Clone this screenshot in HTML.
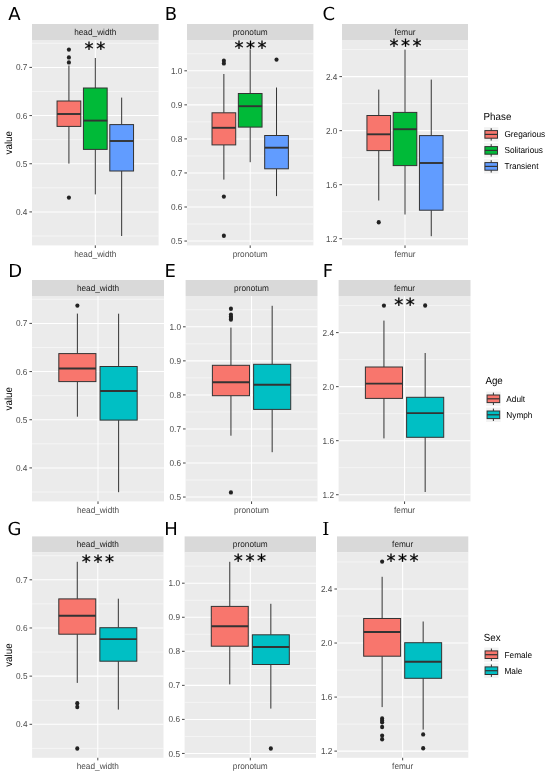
<!DOCTYPE html>
<html lang="en"><head><meta charset="utf-8"><title>Boxplots</title>
<style>html,body{margin:0;padding:0;background:#fff}svg{display:block}text{font-family:"Liberation Sans",Arial,Helvetica,sans-serif;text-rendering:geometricPrecision}.ax{font-size:8.7px;fill:#4D4D4D}.st{font-size:8.7px;fill:#1A1A1A;text-anchor:middle}.at{font-size:10.3px;fill:#000;text-anchor:middle}.lt{font-size:10.3px;fill:#000}.ll{font-size:8.7px;fill:#000}.let{font-family:"DejaVu Sans",Verdana,sans-serif;font-size:18px;fill:#000}.star{font-family:"DejaVu Sans",Verdana,sans-serif;font-size:18px;letter-spacing:2.6px;fill:#000;stroke:#000;stroke-width:.3}.gM{stroke:#fff;stroke-width:1.05}.gm{stroke:#fff;stroke-width:.5}.tk{stroke:#333;stroke-width:.9}.wh{stroke:#333;stroke-width:1.0}.bx{stroke:#333;stroke-width:1.0}.md{stroke:#333;stroke-width:1.9}.pt{fill:#222}</style></head><body>
<svg width="550" height="776" viewBox="0 0 550 776">
<rect width="550" height="776" fill="#fff"/>
<g transform="translate(0,0)">
<rect x="32" y="24" width="126.6" height="16" fill="#D9D9D9"/>
<rect x="32" y="40" width="126.6" height="205.4" fill="#EBEBEB"/>
<line class="gm" x1="32" x2="158.6" y1="236.00" y2="236.00"/>
<line class="gm" x1="32" x2="158.6" y1="187.82" y2="187.82"/>
<line class="gm" x1="32" x2="158.6" y1="139.65" y2="139.65"/>
<line class="gm" x1="32" x2="158.6" y1="91.48" y2="91.48"/>
<line class="gm" x1="32" x2="158.6" y1="43.31" y2="43.31"/>
<line class="gM" x1="32" x2="158.6" y1="211.91" y2="211.91"/>
<line class="gM" x1="32" x2="158.6" y1="163.74" y2="163.74"/>
<line class="gM" x1="32" x2="158.6" y1="115.57" y2="115.57"/>
<line class="gM" x1="32" x2="158.6" y1="67.40" y2="67.40"/>
<line class="gM" x1="95.30" x2="95.30" y1="40" y2="245.4"/>
<line class="tk" x1="29.4" x2="32" y1="211.91" y2="211.91"/>
<text class="ax" text-anchor="end" transform="translate(27.4 214.96) scale(0.95 1)">0.4</text>
<line class="tk" x1="29.4" x2="32" y1="163.74" y2="163.74"/>
<text class="ax" text-anchor="end" transform="translate(27.4 166.79) scale(0.95 1)">0.5</text>
<line class="tk" x1="29.4" x2="32" y1="115.57" y2="115.57"/>
<text class="ax" text-anchor="end" transform="translate(27.4 118.62) scale(0.95 1)">0.6</text>
<line class="tk" x1="29.4" x2="32" y1="67.40" y2="67.40"/>
<text class="ax" text-anchor="end" transform="translate(27.4 70.45) scale(0.95 1)">0.7</text>
<line class="tk" x1="95.30" x2="95.30" y1="245.4" y2="248"/>
<text class="ax" text-anchor="middle" transform="translate(95.30 256.6) scale(0.95 1)">head_width</text>
<text class="st" transform="translate(95.30 34.7) scale(0.95 1)">head_width</text>
<line class="wh" x1="68.92" x2="68.92" y1="65.5" y2="101"/>
<line class="wh" x1="68.92" x2="68.92" y1="126.4" y2="163.6"/>
<rect class="bx" x="57.0562" y="101" width="23.74" height="25.40" fill="#F8766D"/>
<line class="md" x1="57.0562" x2="80.7938" y1="114" y2="114"/>
<ellipse class="pt" cx="68.92" cy="49.6" rx="2.05" ry="2.2"/>
<ellipse class="pt" cx="68.92" cy="57.4" rx="2.05" ry="2.2"/>
<ellipse class="pt" cx="68.92" cy="62.4" rx="2.05" ry="2.2"/>
<ellipse class="pt" cx="68.92" cy="197.6" rx="2.05" ry="2.2"/>
<line class="wh" x1="95.30" x2="95.30" y1="58" y2="88"/>
<line class="wh" x1="95.30" x2="95.30" y1="149.4" y2="194.4"/>
<rect class="bx" x="83.4312" y="88" width="23.74" height="61.40" fill="#00BA38"/>
<line class="md" x1="83.4312" x2="107.169" y1="120.6" y2="120.6"/>
<line class="wh" x1="121.67" x2="121.67" y1="97.6" y2="124.6"/>
<line class="wh" x1="121.67" x2="121.67" y1="171" y2="236"/>
<rect class="bx" x="109.806" y="124.6" width="23.74" height="46.40" fill="#619CFF"/>
<line class="md" x1="109.806" x2="133.544" y1="141" y2="141"/>
<text class="star" text-anchor="middle" x="96.2" y="54.9">**</text>
<text class="let" x="8.2" y="19.5">A</text>
<rect x="187" y="24" width="126.4" height="16" fill="#D9D9D9"/>
<rect x="187" y="40" width="126.4" height="205.4" fill="#EBEBEB"/>
<line class="gm" x1="187" x2="313.4" y1="224.02" y2="224.02"/>
<line class="gm" x1="187" x2="313.4" y1="189.97" y2="189.97"/>
<line class="gm" x1="187" x2="313.4" y1="155.93" y2="155.93"/>
<line class="gm" x1="187" x2="313.4" y1="121.88" y2="121.88"/>
<line class="gm" x1="187" x2="313.4" y1="87.83" y2="87.83"/>
<line class="gm" x1="187" x2="313.4" y1="53.77" y2="53.77"/>
<line class="gM" x1="187" x2="313.4" y1="241.05" y2="241.05"/>
<line class="gM" x1="187" x2="313.4" y1="207.00" y2="207.00"/>
<line class="gM" x1="187" x2="313.4" y1="172.95" y2="172.95"/>
<line class="gM" x1="187" x2="313.4" y1="138.90" y2="138.90"/>
<line class="gM" x1="187" x2="313.4" y1="104.85" y2="104.85"/>
<line class="gM" x1="187" x2="313.4" y1="70.80" y2="70.80"/>
<line class="gM" x1="250.20" x2="250.20" y1="40" y2="245.4"/>
<line class="tk" x1="184.4" x2="187" y1="241.05" y2="241.05"/>
<text class="ax" text-anchor="end" transform="translate(182.4 244.10) scale(0.95 1)">0.5</text>
<line class="tk" x1="184.4" x2="187" y1="207.00" y2="207.00"/>
<text class="ax" text-anchor="end" transform="translate(182.4 210.05) scale(0.95 1)">0.6</text>
<line class="tk" x1="184.4" x2="187" y1="172.95" y2="172.95"/>
<text class="ax" text-anchor="end" transform="translate(182.4 176.00) scale(0.95 1)">0.7</text>
<line class="tk" x1="184.4" x2="187" y1="138.90" y2="138.90"/>
<text class="ax" text-anchor="end" transform="translate(182.4 141.95) scale(0.95 1)">0.8</text>
<line class="tk" x1="184.4" x2="187" y1="104.85" y2="104.85"/>
<text class="ax" text-anchor="end" transform="translate(182.4 107.90) scale(0.95 1)">0.9</text>
<line class="tk" x1="184.4" x2="187" y1="70.80" y2="70.80"/>
<text class="ax" text-anchor="end" transform="translate(182.4 73.85) scale(0.95 1)">1.0</text>
<line class="tk" x1="250.20" x2="250.20" y1="245.4" y2="248"/>
<text class="ax" text-anchor="middle" transform="translate(250.20 256.6) scale(0.95 1)">pronotum</text>
<text class="st" transform="translate(250.20 34.7) scale(0.95 1)">pronotum</text>
<line class="wh" x1="223.87" x2="223.87" y1="74" y2="112.8"/>
<line class="wh" x1="223.87" x2="223.87" y1="144.9" y2="179.6"/>
<rect class="bx" x="212.017" y="112.8" width="23.70" height="32.10" fill="#F8766D"/>
<line class="md" x1="212.017" x2="235.717" y1="127.8" y2="127.8"/>
<ellipse class="pt" cx="223.87" cy="60.8" rx="2.05" ry="2.2"/>
<ellipse class="pt" cx="223.87" cy="63.4" rx="2.05" ry="2.2"/>
<ellipse class="pt" cx="223.87" cy="196.6" rx="2.05" ry="2.2"/>
<ellipse class="pt" cx="223.87" cy="235.8" rx="2.05" ry="2.2"/>
<line class="wh" x1="250.20" x2="250.20" y1="49.3" y2="93.5"/>
<line class="wh" x1="250.20" x2="250.20" y1="127.1" y2="162.2"/>
<rect class="bx" x="238.35" y="93.5" width="23.70" height="33.60" fill="#00BA38"/>
<line class="md" x1="238.35" x2="262.05" y1="106.2" y2="106.2"/>
<line class="wh" x1="276.53" x2="276.53" y1="87.5" y2="135.5"/>
<line class="wh" x1="276.53" x2="276.53" y1="168.8" y2="196.1"/>
<rect class="bx" x="264.683" y="135.5" width="23.70" height="33.30" fill="#619CFF"/>
<line class="md" x1="264.683" x2="288.383" y1="147.7" y2="147.7"/>
<ellipse class="pt" cx="276.53" cy="59.6" rx="2.05" ry="2.2"/>
<text class="star" text-anchor="middle" x="251.8" y="53.9">***</text>
<text class="let" x="164.7" y="19.5">B</text>
<rect x="342" y="24" width="126" height="16" fill="#D9D9D9"/>
<rect x="342" y="40" width="126" height="205.4" fill="#EBEBEB"/>
<line class="gm" x1="342" x2="468" y1="211.70" y2="211.70"/>
<line class="gm" x1="342" x2="468" y1="157.66" y2="157.66"/>
<line class="gm" x1="342" x2="468" y1="103.62" y2="103.62"/>
<line class="gm" x1="342" x2="468" y1="49.58" y2="49.58"/>
<line class="gM" x1="342" x2="468" y1="238.72" y2="238.72"/>
<line class="gM" x1="342" x2="468" y1="184.68" y2="184.68"/>
<line class="gM" x1="342" x2="468" y1="130.64" y2="130.64"/>
<line class="gM" x1="342" x2="468" y1="76.60" y2="76.60"/>
<line class="gM" x1="405.00" x2="405.00" y1="40" y2="245.4"/>
<line class="tk" x1="339.4" x2="342" y1="238.72" y2="238.72"/>
<text class="ax" text-anchor="end" transform="translate(337.4 241.77) scale(0.95 1)">1.2</text>
<line class="tk" x1="339.4" x2="342" y1="184.68" y2="184.68"/>
<text class="ax" text-anchor="end" transform="translate(337.4 187.73) scale(0.95 1)">1.6</text>
<line class="tk" x1="339.4" x2="342" y1="130.64" y2="130.64"/>
<text class="ax" text-anchor="end" transform="translate(337.4 133.69) scale(0.95 1)">2.0</text>
<line class="tk" x1="339.4" x2="342" y1="76.60" y2="76.60"/>
<text class="ax" text-anchor="end" transform="translate(337.4 79.65) scale(0.95 1)">2.4</text>
<line class="tk" x1="405.00" x2="405.00" y1="245.4" y2="248"/>
<text class="ax" text-anchor="middle" transform="translate(405.00 256.6) scale(0.95 1)">femur</text>
<text class="st" transform="translate(405.00 34.7) scale(0.95 1)">femur</text>
<line class="wh" x1="378.75" x2="378.75" y1="89.6" y2="115.5"/>
<line class="wh" x1="378.75" x2="378.75" y1="150.6" y2="200.5"/>
<rect class="bx" x="366.938" y="115.5" width="23.62" height="35.10" fill="#F8766D"/>
<line class="md" x1="366.938" x2="390.562" y1="134.3" y2="134.3"/>
<ellipse class="pt" cx="378.75" cy="222.2" rx="2.05" ry="2.2"/>
<line class="wh" x1="405.00" x2="405.00" y1="49.6" y2="112.4"/>
<line class="wh" x1="405.00" x2="405.00" y1="165.6" y2="214.5"/>
<rect class="bx" x="393.188" y="112.4" width="23.62" height="53.20" fill="#00BA38"/>
<line class="md" x1="393.188" x2="416.812" y1="129.2" y2="129.2"/>
<line class="wh" x1="431.25" x2="431.25" y1="79.6" y2="135.6"/>
<line class="wh" x1="431.25" x2="431.25" y1="210.2" y2="236.2"/>
<rect class="bx" x="419.438" y="135.6" width="23.62" height="74.60" fill="#619CFF"/>
<line class="md" x1="419.438" x2="443.062" y1="163" y2="163"/>
<text class="star" text-anchor="middle" x="406.8" y="51.7">***</text>
<text class="let" x="322.5" y="19.5">C</text>
<text class="at" transform="translate(11.6 142.7) rotate(-90) scale(0.95 1)">value</text>
<text class="lt" transform="translate(483.6 120.2) scale(0.95 1)">Phase</text>
<rect x="484" y="127.2" width="14.4" height="14.4" fill="#F2F2F2"/>
<line class="wh" x1="491.2" x2="491.2" y1="128.2" y2="140.6"/>
<rect class="bx" x="484.9" y="130.6" width="12.6" height="7.6" fill="#F8766D"/>
<line class="wh" x1="484.9" x2="497.5" y1="134.4" y2="134.4" style="stroke-width:1.2"/>
<text class="ll" transform="translate(504.4 137.45) scale(0.95 1)">Gregarious</text>
<rect x="484" y="143.2" width="14.4" height="14.4" fill="#F2F2F2"/>
<line class="wh" x1="491.2" x2="491.2" y1="144.2" y2="156.6"/>
<rect class="bx" x="484.9" y="146.6" width="12.6" height="7.6" fill="#00BA38"/>
<line class="wh" x1="484.9" x2="497.5" y1="150.4" y2="150.4" style="stroke-width:1.2"/>
<text class="ll" transform="translate(504.4 153.45) scale(0.95 1)">Solitarious</text>
<rect x="484" y="159.2" width="14.4" height="14.4" fill="#F2F2F2"/>
<line class="wh" x1="491.2" x2="491.2" y1="160.2" y2="172.6"/>
<rect class="bx" x="484.9" y="162.6" width="12.6" height="7.6" fill="#619CFF"/>
<line class="wh" x1="484.9" x2="497.5" y1="166.4" y2="166.4" style="stroke-width:1.2"/>
<text class="ll" transform="translate(504.4 169.45) scale(0.95 1)">Transient</text>
</g>
<g transform="translate(0,256)">
<rect x="32" y="24" width="132" height="16" fill="#D9D9D9"/>
<rect x="32" y="40" width="132" height="205.4" fill="#EBEBEB"/>
<line class="gm" x1="32" x2="164" y1="236.00" y2="236.00"/>
<line class="gm" x1="32" x2="164" y1="187.82" y2="187.82"/>
<line class="gm" x1="32" x2="164" y1="139.65" y2="139.65"/>
<line class="gm" x1="32" x2="164" y1="91.48" y2="91.48"/>
<line class="gm" x1="32" x2="164" y1="43.31" y2="43.31"/>
<line class="gM" x1="32" x2="164" y1="211.91" y2="211.91"/>
<line class="gM" x1="32" x2="164" y1="163.74" y2="163.74"/>
<line class="gM" x1="32" x2="164" y1="115.57" y2="115.57"/>
<line class="gM" x1="32" x2="164" y1="67.40" y2="67.40"/>
<line class="gM" x1="98.00" x2="98.00" y1="40" y2="245.4"/>
<line class="tk" x1="29.4" x2="32" y1="211.91" y2="211.91"/>
<text class="ax" text-anchor="end" transform="translate(27.4 214.96) scale(0.95 1)">0.4</text>
<line class="tk" x1="29.4" x2="32" y1="163.74" y2="163.74"/>
<text class="ax" text-anchor="end" transform="translate(27.4 166.79) scale(0.95 1)">0.5</text>
<line class="tk" x1="29.4" x2="32" y1="115.57" y2="115.57"/>
<text class="ax" text-anchor="end" transform="translate(27.4 118.62) scale(0.95 1)">0.6</text>
<line class="tk" x1="29.4" x2="32" y1="67.40" y2="67.40"/>
<text class="ax" text-anchor="end" transform="translate(27.4 70.45) scale(0.95 1)">0.7</text>
<line class="tk" x1="98.00" x2="98.00" y1="245.4" y2="248"/>
<text class="ax" text-anchor="middle" transform="translate(98.00 256.6) scale(0.95 1)">head_width</text>
<text class="st" transform="translate(98.00 34.7) scale(0.95 1)">head_width</text>
<line class="wh" x1="77.38" x2="77.38" y1="57.6" y2="97.6"/>
<line class="wh" x1="77.38" x2="77.38" y1="125.6" y2="160.7"/>
<rect class="bx" x="58.8125" y="97.6" width="37.12" height="28.00" fill="#F8766D"/>
<line class="md" x1="58.8125" x2="95.9375" y1="112.5" y2="112.5"/>
<ellipse class="pt" cx="77.38" cy="49.6" rx="2.05" ry="2.2"/>
<line class="wh" x1="118.62" x2="118.62" y1="57.7" y2="110.5"/>
<line class="wh" x1="118.62" x2="118.62" y1="164.1" y2="236.2"/>
<rect class="bx" x="100.062" y="110.5" width="37.12" height="53.60" fill="#00BFC4"/>
<line class="md" x1="100.062" x2="137.188" y1="135" y2="135"/>
<text class="let" x="8.2" y="20.8">D</text>
<rect x="185.6" y="24" width="131.9" height="16" fill="#D9D9D9"/>
<rect x="185.6" y="40" width="131.9" height="205.4" fill="#EBEBEB"/>
<line class="gm" x1="185.6" x2="317.5" y1="224.02" y2="224.02"/>
<line class="gm" x1="185.6" x2="317.5" y1="189.97" y2="189.97"/>
<line class="gm" x1="185.6" x2="317.5" y1="155.93" y2="155.93"/>
<line class="gm" x1="185.6" x2="317.5" y1="121.88" y2="121.88"/>
<line class="gm" x1="185.6" x2="317.5" y1="87.83" y2="87.83"/>
<line class="gm" x1="185.6" x2="317.5" y1="53.77" y2="53.77"/>
<line class="gM" x1="185.6" x2="317.5" y1="241.05" y2="241.05"/>
<line class="gM" x1="185.6" x2="317.5" y1="207.00" y2="207.00"/>
<line class="gM" x1="185.6" x2="317.5" y1="172.95" y2="172.95"/>
<line class="gM" x1="185.6" x2="317.5" y1="138.90" y2="138.90"/>
<line class="gM" x1="185.6" x2="317.5" y1="104.85" y2="104.85"/>
<line class="gM" x1="185.6" x2="317.5" y1="70.80" y2="70.80"/>
<line class="gM" x1="251.55" x2="251.55" y1="40" y2="245.4"/>
<line class="tk" x1="183" x2="185.6" y1="241.05" y2="241.05"/>
<text class="ax" text-anchor="end" transform="translate(181 244.10) scale(0.95 1)">0.5</text>
<line class="tk" x1="183" x2="185.6" y1="207.00" y2="207.00"/>
<text class="ax" text-anchor="end" transform="translate(181 210.05) scale(0.95 1)">0.6</text>
<line class="tk" x1="183" x2="185.6" y1="172.95" y2="172.95"/>
<text class="ax" text-anchor="end" transform="translate(181 176.00) scale(0.95 1)">0.7</text>
<line class="tk" x1="183" x2="185.6" y1="138.90" y2="138.90"/>
<text class="ax" text-anchor="end" transform="translate(181 141.95) scale(0.95 1)">0.8</text>
<line class="tk" x1="183" x2="185.6" y1="104.85" y2="104.85"/>
<text class="ax" text-anchor="end" transform="translate(181 107.90) scale(0.95 1)">0.9</text>
<line class="tk" x1="183" x2="185.6" y1="70.80" y2="70.80"/>
<text class="ax" text-anchor="end" transform="translate(181 73.85) scale(0.95 1)">1.0</text>
<line class="tk" x1="251.55" x2="251.55" y1="245.4" y2="248"/>
<text class="ax" text-anchor="middle" transform="translate(251.55 256.6) scale(0.95 1)">pronotum</text>
<text class="st" transform="translate(251.55 34.7) scale(0.95 1)">pronotum</text>
<line class="wh" x1="230.94" x2="230.94" y1="71.6" y2="109.3"/>
<line class="wh" x1="230.94" x2="230.94" y1="139.7" y2="179.7"/>
<rect class="bx" x="212.392" y="109.3" width="37.10" height="30.40" fill="#F8766D"/>
<line class="md" x1="212.392" x2="249.489" y1="126.2" y2="126.2"/>
<ellipse class="pt" cx="230.94" cy="52.8" rx="2.05" ry="2.2"/>
<ellipse class="pt" cx="230.94" cy="58.6" rx="2.05" ry="2.2"/>
<ellipse class="pt" cx="230.94" cy="60.4" rx="2.05" ry="2.2"/>
<ellipse class="pt" cx="230.94" cy="62" rx="2.05" ry="2.2"/>
<ellipse class="pt" cx="230.94" cy="63.6" rx="2.05" ry="2.2"/>
<ellipse class="pt" cx="230.94" cy="236.4" rx="2.05" ry="2.2"/>
<line class="wh" x1="272.16" x2="272.16" y1="49.8" y2="108.3"/>
<line class="wh" x1="272.16" x2="272.16" y1="153.4" y2="196.2"/>
<rect class="bx" x="253.611" y="108.3" width="37.10" height="45.10" fill="#00BFC4"/>
<line class="md" x1="253.611" x2="290.708" y1="128.8" y2="128.8"/>
<text class="let" x="164.5" y="20.8">E</text>
<rect x="338.6" y="24" width="131.9" height="16" fill="#D9D9D9"/>
<rect x="338.6" y="40" width="131.9" height="205.4" fill="#EBEBEB"/>
<line class="gm" x1="338.6" x2="470.5" y1="211.70" y2="211.70"/>
<line class="gm" x1="338.6" x2="470.5" y1="157.66" y2="157.66"/>
<line class="gm" x1="338.6" x2="470.5" y1="103.62" y2="103.62"/>
<line class="gm" x1="338.6" x2="470.5" y1="49.58" y2="49.58"/>
<line class="gM" x1="338.6" x2="470.5" y1="238.72" y2="238.72"/>
<line class="gM" x1="338.6" x2="470.5" y1="184.68" y2="184.68"/>
<line class="gM" x1="338.6" x2="470.5" y1="130.64" y2="130.64"/>
<line class="gM" x1="338.6" x2="470.5" y1="76.60" y2="76.60"/>
<line class="gM" x1="404.55" x2="404.55" y1="40" y2="245.4"/>
<line class="tk" x1="336" x2="338.6" y1="238.72" y2="238.72"/>
<text class="ax" text-anchor="end" transform="translate(334 241.77) scale(0.95 1)">1.2</text>
<line class="tk" x1="336" x2="338.6" y1="184.68" y2="184.68"/>
<text class="ax" text-anchor="end" transform="translate(334 187.73) scale(0.95 1)">1.6</text>
<line class="tk" x1="336" x2="338.6" y1="130.64" y2="130.64"/>
<text class="ax" text-anchor="end" transform="translate(334 133.69) scale(0.95 1)">2.0</text>
<line class="tk" x1="336" x2="338.6" y1="76.60" y2="76.60"/>
<text class="ax" text-anchor="end" transform="translate(334 79.65) scale(0.95 1)">2.4</text>
<line class="tk" x1="404.55" x2="404.55" y1="245.4" y2="248"/>
<text class="ax" text-anchor="middle" transform="translate(404.55 256.6) scale(0.95 1)">femur</text>
<text class="st" transform="translate(404.55 34.7) scale(0.95 1)">femur</text>
<line class="wh" x1="383.94" x2="383.94" y1="64.6" y2="111"/>
<line class="wh" x1="383.94" x2="383.94" y1="142.4" y2="182.4"/>
<rect class="bx" x="365.392" y="111" width="37.10" height="31.40" fill="#F8766D"/>
<line class="md" x1="365.392" x2="402.489" y1="127.6" y2="127.6"/>
<ellipse class="pt" cx="383.94" cy="49.6" rx="2.05" ry="2.2"/>
<line class="wh" x1="425.16" x2="425.16" y1="97" y2="141.3"/>
<line class="wh" x1="425.16" x2="425.16" y1="181.3" y2="236"/>
<rect class="bx" x="406.611" y="141.3" width="37.10" height="40.00" fill="#00BFC4"/>
<line class="md" x1="406.611" x2="443.708" y1="157.1" y2="157.1"/>
<ellipse class="pt" cx="425.16" cy="49.5" rx="2.05" ry="2.2"/>
<text class="star" text-anchor="middle" x="405.8" y="55.2">**</text>
<text class="let" x="322.7" y="20.8">F</text>
<text class="at" transform="translate(11.6 142.7) rotate(-90) scale(0.95 1)">value</text>
<text class="lt" transform="translate(485.4 128.4) scale(0.95 1)">Age</text>
<rect x="486.2" y="135.6" width="14.4" height="14.4" fill="#F2F2F2"/>
<line class="wh" x1="493.4" x2="493.4" y1="136.6" y2="149"/>
<rect class="bx" x="487.1" y="139" width="12.6" height="7.6" fill="#F8766D"/>
<line class="wh" x1="487.1" x2="499.7" y1="142.8" y2="142.8" style="stroke-width:1.2"/>
<text class="ll" transform="translate(506.3 145.85) scale(0.95 1)">Adult</text>
<rect x="486.2" y="151.6" width="14.4" height="14.4" fill="#F2F2F2"/>
<line class="wh" x1="493.4" x2="493.4" y1="152.6" y2="165"/>
<rect class="bx" x="487.1" y="155" width="12.6" height="7.6" fill="#00BFC4"/>
<line class="wh" x1="487.1" x2="499.7" y1="158.8" y2="158.8" style="stroke-width:1.2"/>
<text class="ll" transform="translate(506.3 161.85) scale(0.95 1)">Nymph</text>
</g>
<g transform="translate(0,512.4)">
<rect x="32.1" y="24" width="131.4" height="16" fill="#D9D9D9"/>
<rect x="32.1" y="40" width="131.4" height="205.4" fill="#EBEBEB"/>
<line class="gm" x1="32.1" x2="163.5" y1="236.00" y2="236.00"/>
<line class="gm" x1="32.1" x2="163.5" y1="187.82" y2="187.82"/>
<line class="gm" x1="32.1" x2="163.5" y1="139.65" y2="139.65"/>
<line class="gm" x1="32.1" x2="163.5" y1="91.48" y2="91.48"/>
<line class="gm" x1="32.1" x2="163.5" y1="43.31" y2="43.31"/>
<line class="gM" x1="32.1" x2="163.5" y1="211.91" y2="211.91"/>
<line class="gM" x1="32.1" x2="163.5" y1="163.74" y2="163.74"/>
<line class="gM" x1="32.1" x2="163.5" y1="115.57" y2="115.57"/>
<line class="gM" x1="32.1" x2="163.5" y1="67.40" y2="67.40"/>
<line class="gM" x1="97.80" x2="97.80" y1="40" y2="245.4"/>
<line class="tk" x1="29.5" x2="32.1" y1="211.91" y2="211.91"/>
<text class="ax" text-anchor="end" transform="translate(27.5 214.96) scale(0.95 1)">0.4</text>
<line class="tk" x1="29.5" x2="32.1" y1="163.74" y2="163.74"/>
<text class="ax" text-anchor="end" transform="translate(27.5 166.79) scale(0.95 1)">0.5</text>
<line class="tk" x1="29.5" x2="32.1" y1="115.57" y2="115.57"/>
<text class="ax" text-anchor="end" transform="translate(27.5 118.62) scale(0.95 1)">0.6</text>
<line class="tk" x1="29.5" x2="32.1" y1="67.40" y2="67.40"/>
<text class="ax" text-anchor="end" transform="translate(27.5 70.45) scale(0.95 1)">0.7</text>
<line class="tk" x1="97.80" x2="97.80" y1="245.4" y2="248"/>
<text class="ax" text-anchor="middle" transform="translate(97.80 256.6) scale(0.95 1)">head_width</text>
<text class="st" transform="translate(97.80 34.7) scale(0.95 1)">head_width</text>
<line class="wh" x1="77.27" x2="77.27" y1="49.4" y2="86.5"/>
<line class="wh" x1="77.27" x2="77.27" y1="121.8" y2="170.5"/>
<rect class="bx" x="58.7906" y="86.5" width="36.96" height="35.30" fill="#F8766D"/>
<line class="md" x1="58.7906" x2="95.7469" y1="103.3" y2="103.3"/>
<ellipse class="pt" cx="77.27" cy="190.8" rx="2.05" ry="2.2"/>
<ellipse class="pt" cx="77.27" cy="194.6" rx="2.05" ry="2.2"/>
<ellipse class="pt" cx="77.27" cy="236.1" rx="2.05" ry="2.2"/>
<line class="wh" x1="118.33" x2="118.33" y1="86.3" y2="115.3"/>
<line class="wh" x1="118.33" x2="118.33" y1="148.8" y2="197.2"/>
<rect class="bx" x="99.8531" y="115.3" width="36.96" height="33.50" fill="#00BFC4"/>
<line class="md" x1="99.8531" x2="136.809" y1="126.7" y2="126.7"/>
<text class="star" text-anchor="middle" x="99.2" y="55.5">***</text>
<text class="let" x="7.5" y="22.3">G</text>
<rect x="184.6" y="24" width="131.4" height="16" fill="#D9D9D9"/>
<rect x="184.6" y="40" width="131.4" height="205.4" fill="#EBEBEB"/>
<line class="gm" x1="184.6" x2="316" y1="224.02" y2="224.02"/>
<line class="gm" x1="184.6" x2="316" y1="189.97" y2="189.97"/>
<line class="gm" x1="184.6" x2="316" y1="155.93" y2="155.93"/>
<line class="gm" x1="184.6" x2="316" y1="121.88" y2="121.88"/>
<line class="gm" x1="184.6" x2="316" y1="87.83" y2="87.83"/>
<line class="gm" x1="184.6" x2="316" y1="53.77" y2="53.77"/>
<line class="gM" x1="184.6" x2="316" y1="241.05" y2="241.05"/>
<line class="gM" x1="184.6" x2="316" y1="207.00" y2="207.00"/>
<line class="gM" x1="184.6" x2="316" y1="172.95" y2="172.95"/>
<line class="gM" x1="184.6" x2="316" y1="138.90" y2="138.90"/>
<line class="gM" x1="184.6" x2="316" y1="104.85" y2="104.85"/>
<line class="gM" x1="184.6" x2="316" y1="70.80" y2="70.80"/>
<line class="gM" x1="250.30" x2="250.30" y1="40" y2="245.4"/>
<line class="tk" x1="182" x2="184.6" y1="241.05" y2="241.05"/>
<text class="ax" text-anchor="end" transform="translate(180 244.10) scale(0.95 1)">0.5</text>
<line class="tk" x1="182" x2="184.6" y1="207.00" y2="207.00"/>
<text class="ax" text-anchor="end" transform="translate(180 210.05) scale(0.95 1)">0.6</text>
<line class="tk" x1="182" x2="184.6" y1="172.95" y2="172.95"/>
<text class="ax" text-anchor="end" transform="translate(180 176.00) scale(0.95 1)">0.7</text>
<line class="tk" x1="182" x2="184.6" y1="138.90" y2="138.90"/>
<text class="ax" text-anchor="end" transform="translate(180 141.95) scale(0.95 1)">0.8</text>
<line class="tk" x1="182" x2="184.6" y1="104.85" y2="104.85"/>
<text class="ax" text-anchor="end" transform="translate(180 107.90) scale(0.95 1)">0.9</text>
<line class="tk" x1="182" x2="184.6" y1="70.80" y2="70.80"/>
<text class="ax" text-anchor="end" transform="translate(180 73.85) scale(0.95 1)">1.0</text>
<line class="tk" x1="250.30" x2="250.30" y1="245.4" y2="248"/>
<text class="ax" text-anchor="middle" transform="translate(250.30 256.6) scale(0.95 1)">pronotum</text>
<text class="st" transform="translate(250.30 34.7) scale(0.95 1)">pronotum</text>
<line class="wh" x1="229.77" x2="229.77" y1="49.4" y2="94"/>
<line class="wh" x1="229.77" x2="229.77" y1="133.8" y2="172"/>
<rect class="bx" x="211.291" y="94" width="36.96" height="39.80" fill="#F8766D"/>
<line class="md" x1="211.291" x2="248.247" y1="113.9" y2="113.9"/>
<line class="wh" x1="270.83" x2="270.83" y1="91.4" y2="122.4"/>
<line class="wh" x1="270.83" x2="270.83" y1="152.1" y2="196.2"/>
<rect class="bx" x="252.353" y="122.4" width="36.96" height="29.70" fill="#00BFC4"/>
<line class="md" x1="252.353" x2="289.309" y1="134.6" y2="134.6"/>
<ellipse class="pt" cx="270.83" cy="236.1" rx="2.05" ry="2.2"/>
<text class="star" text-anchor="middle" x="251.2" y="54.9">***</text>
<text class="let" x="164.2" y="22.3">H</text>
<rect x="337" y="24" width="131.3" height="16" fill="#D9D9D9"/>
<rect x="337" y="40" width="131.3" height="205.4" fill="#EBEBEB"/>
<line class="gm" x1="337" x2="468.3" y1="211.70" y2="211.70"/>
<line class="gm" x1="337" x2="468.3" y1="157.66" y2="157.66"/>
<line class="gm" x1="337" x2="468.3" y1="103.62" y2="103.62"/>
<line class="gm" x1="337" x2="468.3" y1="49.58" y2="49.58"/>
<line class="gM" x1="337" x2="468.3" y1="238.72" y2="238.72"/>
<line class="gM" x1="337" x2="468.3" y1="184.68" y2="184.68"/>
<line class="gM" x1="337" x2="468.3" y1="130.64" y2="130.64"/>
<line class="gM" x1="337" x2="468.3" y1="76.60" y2="76.60"/>
<line class="gM" x1="402.65" x2="402.65" y1="40" y2="245.4"/>
<line class="tk" x1="334.4" x2="337" y1="238.72" y2="238.72"/>
<text class="ax" text-anchor="end" transform="translate(332.4 241.77) scale(0.95 1)">1.2</text>
<line class="tk" x1="334.4" x2="337" y1="184.68" y2="184.68"/>
<text class="ax" text-anchor="end" transform="translate(332.4 187.73) scale(0.95 1)">1.6</text>
<line class="tk" x1="334.4" x2="337" y1="130.64" y2="130.64"/>
<text class="ax" text-anchor="end" transform="translate(332.4 133.69) scale(0.95 1)">2.0</text>
<line class="tk" x1="334.4" x2="337" y1="76.60" y2="76.60"/>
<text class="ax" text-anchor="end" transform="translate(332.4 79.65) scale(0.95 1)">2.4</text>
<line class="tk" x1="402.65" x2="402.65" y1="245.4" y2="248"/>
<text class="ax" text-anchor="middle" transform="translate(402.65 256.6) scale(0.95 1)">femur</text>
<text class="st" transform="translate(402.65 34.7) scale(0.95 1)">femur</text>
<line class="wh" x1="382.13" x2="382.13" y1="64.4" y2="106.1"/>
<line class="wh" x1="382.13" x2="382.13" y1="143.8" y2="194.7"/>
<rect class="bx" x="363.67" y="106.1" width="36.93" height="37.70" fill="#F8766D"/>
<line class="md" x1="363.67" x2="400.598" y1="119.6" y2="119.6"/>
<ellipse class="pt" cx="382.13" cy="49.2" rx="2.05" ry="2.2"/>
<ellipse class="pt" cx="382.13" cy="206" rx="2.05" ry="2.2"/>
<ellipse class="pt" cx="382.13" cy="208" rx="2.05" ry="2.2"/>
<ellipse class="pt" cx="382.13" cy="209.8" rx="2.05" ry="2.2"/>
<ellipse class="pt" cx="382.13" cy="214.6" rx="2.05" ry="2.2"/>
<ellipse class="pt" cx="382.13" cy="223.2" rx="2.05" ry="2.2"/>
<ellipse class="pt" cx="382.13" cy="226.8" rx="2.05" ry="2.2"/>
<line class="wh" x1="423.17" x2="423.17" y1="109.1" y2="130.3"/>
<line class="wh" x1="423.17" x2="423.17" y1="165.9" y2="217.2"/>
<rect class="bx" x="404.702" y="130.3" width="36.93" height="35.60" fill="#00BFC4"/>
<line class="md" x1="404.702" x2="441.63" y1="149.4" y2="149.4"/>
<ellipse class="pt" cx="423.17" cy="222" rx="2.05" ry="2.2"/>
<ellipse class="pt" cx="423.17" cy="235.8" rx="2.05" ry="2.2"/>
<text class="star" text-anchor="middle" x="403.8" y="54.9">***</text>
<text class="let" style="font-family:'DejaVu Serif',serif" x="322.3" y="22.3">I</text>
<text class="at" transform="translate(11.6 142.7) rotate(-90) scale(0.95 1)">value</text>
<text class="lt" transform="translate(483.7 128.4) scale(0.95 1)">Sex</text>
<rect x="484.2" y="135.1" width="14.4" height="14.4" fill="#F2F2F2"/>
<line class="wh" x1="491.4" x2="491.4" y1="136.1" y2="148.5"/>
<rect class="bx" x="485.1" y="138.5" width="12.6" height="7.6" fill="#F8766D"/>
<line class="wh" x1="485.1" x2="497.7" y1="142.3" y2="142.3" style="stroke-width:1.2"/>
<text class="ll" transform="translate(504.5 145.35) scale(0.95 1)">Female</text>
<rect x="484.2" y="151.1" width="14.4" height="14.4" fill="#F2F2F2"/>
<line class="wh" x1="491.4" x2="491.4" y1="152.1" y2="164.5"/>
<rect class="bx" x="485.1" y="154.5" width="12.6" height="7.6" fill="#00BFC4"/>
<line class="wh" x1="485.1" x2="497.7" y1="158.3" y2="158.3" style="stroke-width:1.2"/>
<text class="ll" transform="translate(504.5 161.35) scale(0.95 1)">Male</text>
</g>
</svg></body></html>
